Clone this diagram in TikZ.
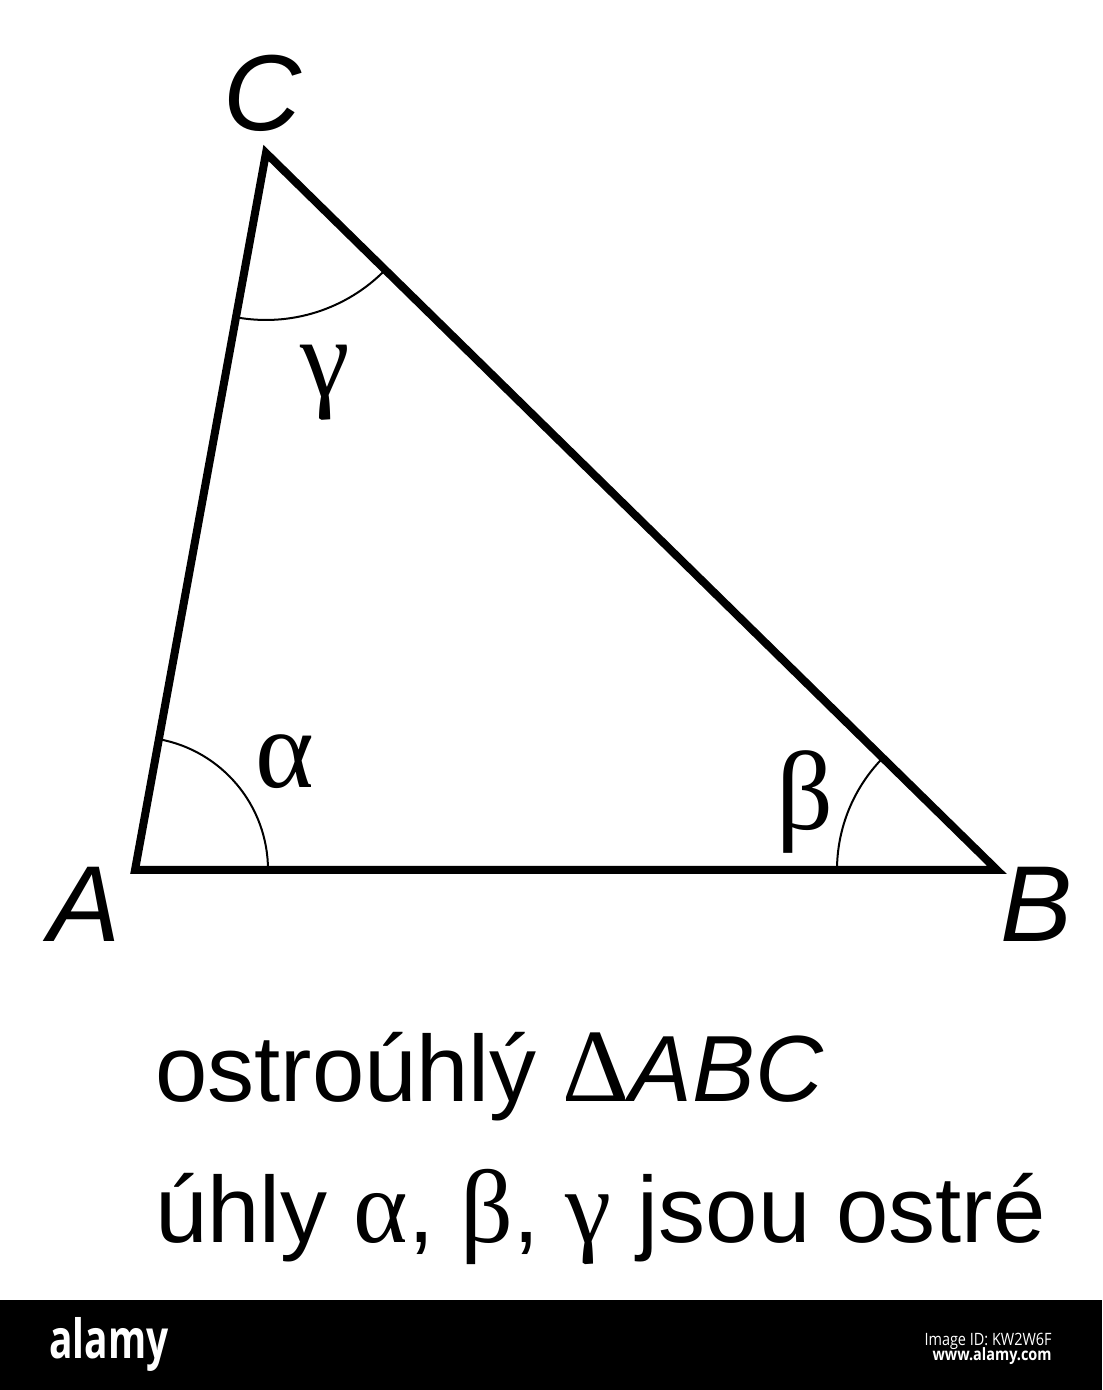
\documentclass[tikz,border=0pt]{standalone}
\usepackage{fontspec}
\setmainfont{Liberation Sans}
\newfontfamily\grk{Liberation Serif}
\newfontfamily\wmfont{Open Sans}
\usetikzlibrary{positioning,angles,calc}

\newcommand\capgrk[1]{{\grk\fontsize{52}{54}\selectfont #1}}

\tikzset{
  side/.style={line width=4pt, line join=miter},
  anglearc/.style={draw, line width=1pt},
  vertexlbl/.style={font=\fontsize{54}{60}\selectfont\itshape, inner sep=0pt},
  greeklbl/.style={font=\fontsize{56}{60}\selectfont\grk, inner sep=0pt, anchor=base},
  caption/.style={font=\fontsize{47}{54}\selectfont, inner sep=0pt, anchor=base west},
  wmtext/.style={text=white, inner sep=0pt},
}

\begin{document}
\begin{tikzpicture}[x=0.5pt,y=0.5pt]
\useasboundingbox (0,0) rectangle (1102,1390);
\fill[white] (0,0) rectangle (1102,1390);
% triangle
\coordinate (A) at (135,520);
\coordinate (B) at (997,520);
\coordinate (C) at (266,1237);
\draw[side] (A) -- (B) -- (C) -- cycle;
\pic[anglearc, angle radius=66.5pt] {angle=B--A--C};
\pic[anglearc, angle radius=80pt] {angle=C--B--A};
\pic[anglearc, angle radius=83.5pt] {angle=A--C--B};
% vertex and angle labels
\node[vertexlbl] (lblA) at (85,486) {A};
\node[vertexlbl] (lblB) at (1036,486) {B};
\node[vertexlbl] (lblC) at (262,1297) {C};
\node[greeklbl] (alpha) at (285,602) {α};
\node[greeklbl] (beta) at (805,560) {β};
\node[greeklbl] (gamma) at (325,993) {γ};
% caption
\node[caption] (line1) at (155,288) {ostroúhlý \capgrk{Δ}\textit{ABC}};
\node[caption] (line2) at (155,147) {úhly \capgrk{α}, \capgrk{β}, \capgrk{γ} jsou ostré};
% watermark bar
\fill (0,0) rectangle (1102,90);
\node[wmtext, anchor=west, font=\wmfont\bfseries\fontsize{27}{27}\selectfont] (logo) at (49,46) {\scalebox{0.72}[1]{alamy}};
\node[wmtext, anchor=east, font=\wmfont\fontsize{8.5}{9}\selectfont] (imgid) at (1052,49) {\scalebox{0.85}[1]{Image ID: KW2W6F}};
\node[wmtext, anchor=east, font=\wmfont\bfseries\fontsize{8.5}{9}\selectfont] (site) at (1052,34) {\scalebox{0.85}[1]{www.alamy.com}};
\end{tikzpicture}
\end{document}
